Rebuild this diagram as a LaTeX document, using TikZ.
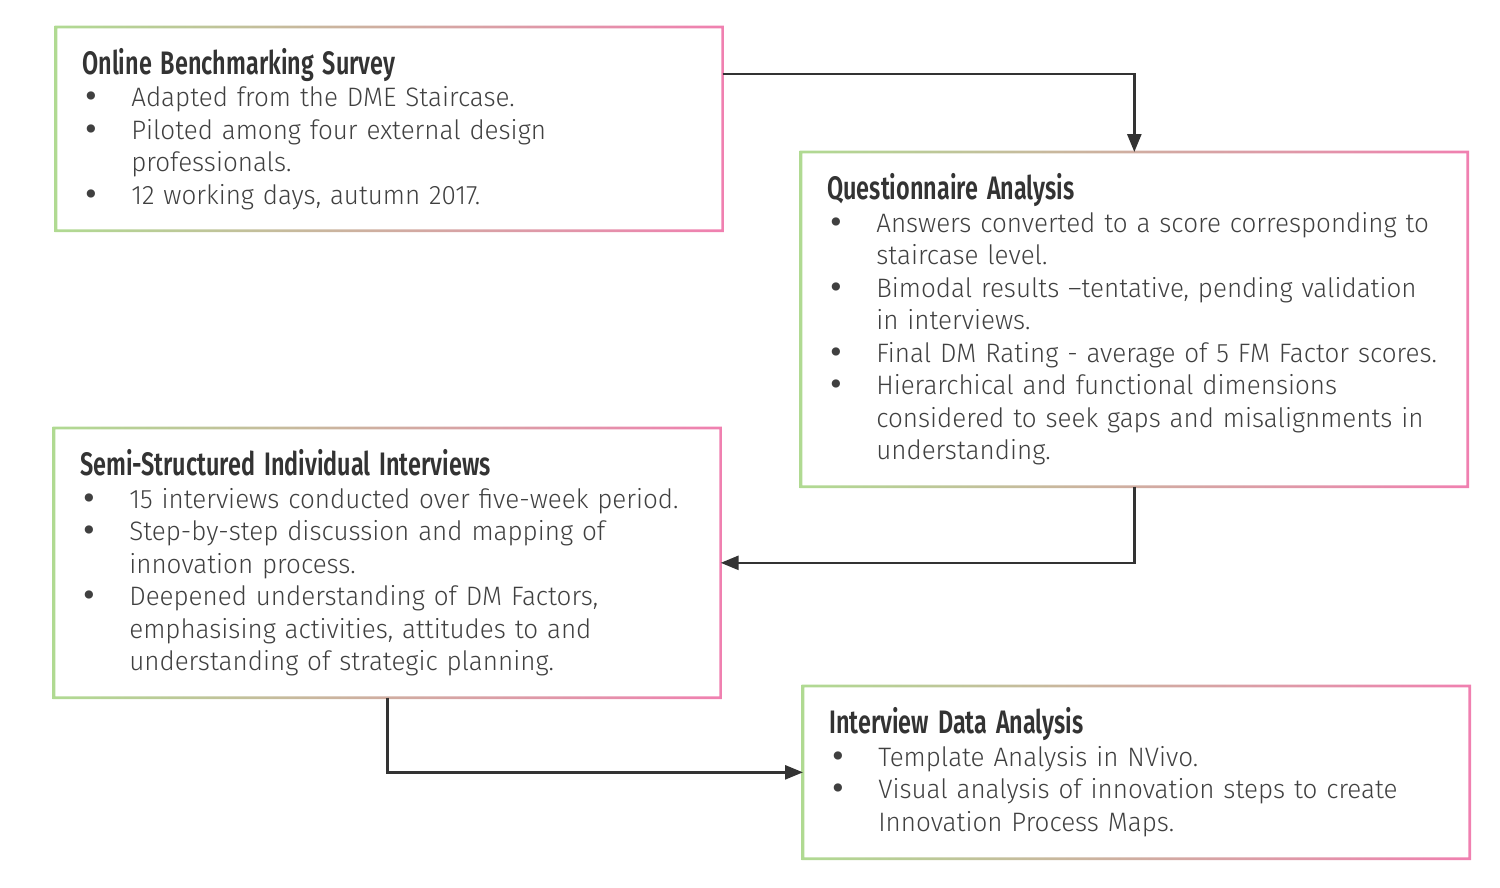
\documentclass[tikz,border=0pt]{standalone}
\usepackage{fontspec}
\setmainfont{Fira Sans Light}[FakeStretch=0.975]
\newfontfamily\headfont{Fira Sans SemiBold}[FakeStretch=0.72]
\newfontfamily\dotfont{DejaVu Sans}
\usetikzlibrary{arrows.meta,shadings}

\definecolor{grnline}{RGB}{176,218,146}
\definecolor{pnkline}{RGB}{240,128,176}
\definecolor{inkgray}{RGB}{51,51,51}
\definecolor{bodygray}{RGB}{64,64,64}

% bullet line with hanging indent
\newcommand{\entry}[1]{\par\noindent\hangindent=29.4pt\hangafter=1%
  \makebox[29.4pt][l]{\hspace{0.2pt}{\dotfont\fontsize{17pt}{0pt}\selectfont •}}#1\par}
\newcommand{\boxtitle}[1]{{\headfont\fontsize{19.5pt}{19.5pt}\selectfont\color{inkgray}#1}}

\tikzset{
  stagebox/.style={rectangle, anchor=north west, align=left,
    text width=368.4pt, minimum width=399.6pt, inner xsep=15.6pt, inner ysep=0pt,
    text=bodygray, font=\fontsize{16pt}{19.5pt}\selectfont},
  flowarrow/.style={draw=inkgray, line width=1.6pt,
    -{Triangle[length=10.8pt, width=8.4pt]}},
}

\begin{document}
\begin{tikzpicture}[x=0.6pt, y=-0.6pt]
  \useasboundingbox (0,0) rectangle (1500,887);

  \node [stagebox, minimum height=121.8pt] (survey) at (56,27) {%
    \boxtitle{Online Benchmarking Survey}
    \entry{Adapted from the DME Staircase.}
    \entry{Piloted among four external design\newline professionals.}
    \entry{12 working days, autumn 2017.}};

  \node [stagebox, minimum height=200.4pt] (questionnaire) at (801,152) {%
    \boxtitle{Questionnaire Analysis}
    \entry{Answers converted to a score corresponding to\newline staircase level.}
    \entry{Bimodal results --tentative, pending validation\newline in interviews.}
    \entry{Final DM Rating - average of 5 FM Factor scores.}
    \entry{Hierarchical and functional dimensions\newline considered to seek gaps and misalignments in\newline understanding.}};

  \node [stagebox, minimum height=161.4pt] (interviews) at (54,428) {%
    \boxtitle{Semi-Structured Individual Interviews}
    \entry{15 interviews conducted over five-week period.}
    \entry{Step-by-step discussion and mapping of\newline innovation process.}
    \entry{Deepened understanding of DM Factors,\newline emphasising activities, attitudes to and\newline understanding of strategic planning.}};

  \node [stagebox, minimum height=103.2pt] (dataanalysis) at (803,686) {%
    \boxtitle{Interview Data Analysis}
    \entry{Template Analysis in NVivo.}
    \entry{Visual analysis of innovation steps to create\newline Innovation Process Maps.}};

  % green to pink frames
  \foreach \n in {survey,questionnaire,interviews,dataanalysis}
    \shade [left color=grnline, right color=pnkline, even odd rule]
      ([shift={(-0.8pt,-0.8pt)}]\n.south west) rectangle ([shift={(0.8pt,0.8pt)}]\n.north east)
      ([shift={(0.8pt,0.8pt)}]\n.south west) rectangle ([shift={(-0.8pt,-0.8pt)}]\n.north east);

  \draw [flowarrow] ([yshift=-28.2pt]survey.north east) -| (questionnaire.north);
  \draw [flowarrow] (questionnaire.south) |- (interviews.east);
  \draw [flowarrow] (interviews.south) |- (dataanalysis.west);
\end{tikzpicture}
\end{document}
